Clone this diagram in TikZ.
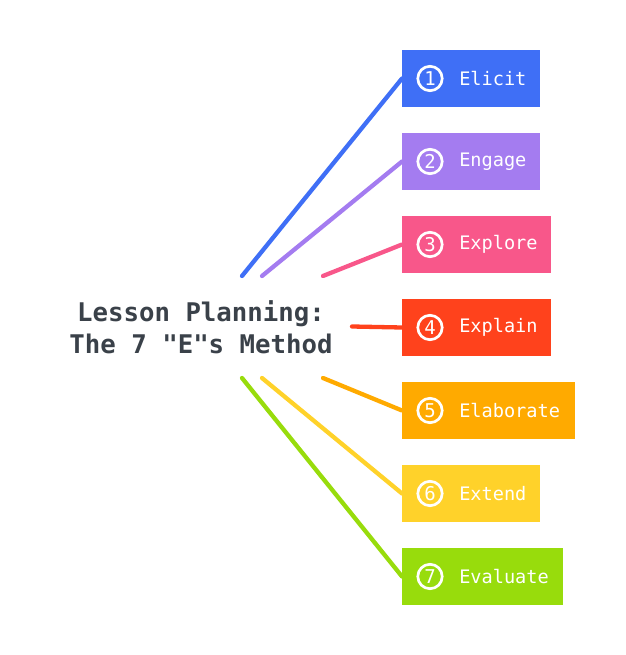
\documentclass[tikz,border=0pt]{standalone}
\usepackage{fontspec}
\setmonofont{DejaVu Sans Mono}
\usepackage{xcolor}
\usetikzlibrary{positioning}
\definecolor{titlecol}{HTML}{3A4149}
\definecolor{elicitcol}{HTML}{3F6FF6}
\definecolor{engagecol}{HTML}{A47CF0}
\definecolor{explorecol}{HTML}{F8578A}
\definecolor{explaincol}{HTML}{FF421C}
\definecolor{elaboratecol}{HTML}{FFAA00}
\definecolor{extendcol}{HTML}{FFD22A}
\definecolor{evaluatecol}{HTML}{98DC0C}

\begin{document}
\begin{tikzpicture}[line cap=round,line join=round,x=1pt,y=1pt,
    ebox/.style={anchor=west,minimum height=57pt,inner sep=0pt},
    num/.style={circle,draw=white,line width=2.7pt,minimum size=24.4pt,inner sep=0pt,text=white,font=\ttfamily\fontsize{19}{19}\selectfont},
    lbl/.style={inner sep=0pt,text=white,font=\ttfamily\fontsize{18.6}{22}\selectfont},
    link/.style={line width=4.3pt}]
    \useasboundingbox (0,0) rectangle (625,-655);
    % title
    \node[text=titlecol,align=center,font=\ttfamily\bfseries\fontsize{25.7}{32}\selectfont] (title) at (201,-327) {Lesson Planning:\\The 7 "E"s Method};
    % boxes
    \node[ebox,fill=elicitcol,minimum width=138pt] (elicit) at (402,-78.5) {};
    \node[num] (n1) at ([xshift=28pt]elicit.west) {1};
    \node[lbl,right=15.5pt of n1] {Elicit};
    \node[ebox,fill=engagecol,minimum width=138pt] (engage) at (402,-161.5) {};
    \node[num] (n2) at ([xshift=28pt]engage.west) {2};
    \node[lbl,right=15.5pt of n2] {Engage};
    \node[ebox,fill=explorecol,minimum width=149pt] (explore) at (402,-244.5) {};
    \node[num] (n3) at ([xshift=28pt]explore.west) {3};
    \node[lbl,right=15.5pt of n3] {Explore};
    \node[ebox,fill=explaincol,minimum width=149pt] (explain) at (402,-327.5) {};
    \node[num] (n4) at ([xshift=28pt]explain.west) {4};
    \node[lbl,right=15.5pt of n4] {Explain};
    \node[ebox,fill=elaboratecol,minimum width=173pt] (elaborate) at (402,-410.5) {};
    \node[num] (n5) at ([xshift=28pt]elaborate.west) {5};
    \node[lbl,right=15.5pt of n5] {Elaborate};
    \node[ebox,fill=extendcol,minimum width=138pt] (extend) at (402,-493.5) {};
    \node[num] (n6) at ([xshift=28pt]extend.west) {6};
    \node[lbl,right=15.5pt of n6] {Extend};
    \node[ebox,fill=evaluatecol,minimum width=161pt] (evaluate) at (402,-576.5) {};
    \node[num] (n7) at ([xshift=28pt]evaluate.west) {7};
    \node[lbl,right=15.5pt of n7] {Evaluate};
    % connectors
    \coordinate (s1) at (242,-276);
    \coordinate (s2) at (262,-276);
    \coordinate (s3) at (323,-276);
    \coordinate (s4) at (352,-326.5);
    \coordinate (s5) at (323,-378);
    \coordinate (s6) at (262,-378);
    \coordinate (s7) at (242,-378);
    \draw[link,elicitcol] (s1) -- (elicit.west);
    \draw[link,engagecol] (s2) -- (engage.west);
    \draw[link,explorecol] (s3) -- (explore.west);
    \draw[link,explaincol] (s4) -- (explain.west);
    \draw[link,elaboratecol] (s5) -- (elaborate.west);
    \draw[link,extendcol] (s6) -- (extend.west);
    \draw[link,evaluatecol] (s7) -- (evaluate.west);
\end{tikzpicture}
\end{document}
